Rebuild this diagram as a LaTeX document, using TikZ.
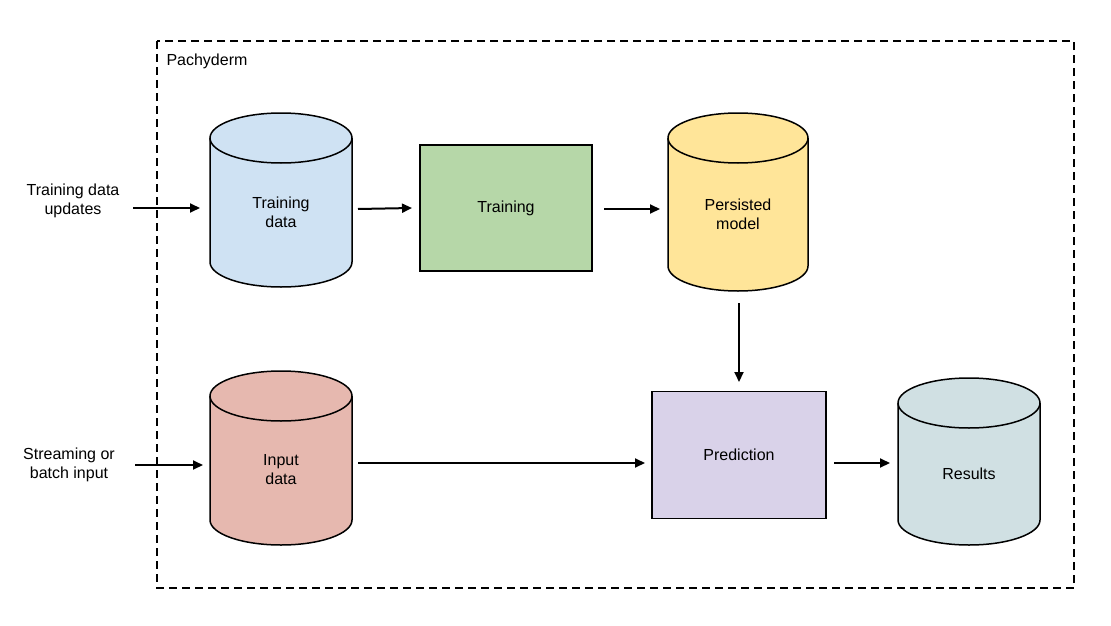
\documentclass[tikz,border=0pt]{standalone}
\usepackage{fontspec}
\setmainfont{Liberation Sans}
\usetikzlibrary{arrows.meta}
\definecolor{cblue}{HTML}{CFE2F3}
\definecolor{cgreen}{HTML}{B6D7A8}
\definecolor{cyellow}{HTML}{FFE599}
\definecolor{cpurple}{HTML}{D9D2E9}
\definecolor{cred}{HTML}{E6B8AF}
\definecolor{cteal}{HTML}{D0E0E3}
\tikzset{
  box/.style={draw=black, line width=1.5pt, align=center, inner sep=0pt, font=\fontsize{16}{19}\selectfont},
  lbl/.style={align=center, font=\fontsize{16}{19}\selectfont},
  arr/.style={-{Triangle[length=10pt,width=9pt]}, line width=2pt},
}
\newcommand{\mycyl}[7]{% name x1 x2 ytop ybot color text
  \pgfmathsetmacro{\rx}{(#3-#2)/2}
  \pgfmathsetmacro{\cx}{(#3+#2)/2}
  \fill[#6] (#2,#4+25) -- (#2,#5-25) arc[start angle=180,end angle=0,x radius=\rx,y radius=25] -- (#3,#4+25) arc[start angle=0,end angle=-180,x radius=\rx,y radius=25] -- cycle;
  \draw[line width=1.5pt] (#2,#4+25) -- (#2,#5-25) arc[start angle=180,end angle=0,x radius=\rx,y radius=25] -- (#3,#4+25);
  \draw[line width=1.5pt] (\cx,#4+25) ellipse[x radius=\rx,y radius=25];
  \node[lbl, minimum width=#3-#2, minimum height=#5-#4-50, inner sep=0pt] (#1) at (\cx,{(#4+#5)/2+12}) {#7};
}
\begin{document}
\begin{tikzpicture}[x=1pt,y=-1pt]
\useasboundingbox (0,0) rectangle (1111,626);
\draw[dashed, line width=2pt, dash pattern=on 8pt off 5pt] (157,41) rectangle (1074,588);
\node[lbl, anchor=west] (pach) at (163,61) {Pachyderm};
\mycyl{td}{210}{352}{113}{287}{cblue}{Training\\data}
\mycyl{pm}{668}{808}{113}{291}{cyellow}{Persisted\\model}
\mycyl{id}{210}{352}{371}{545}{cred}{Input\\data}
\mycyl{rs}{898}{1040}{378}{545}{cteal}{Results}
\node[box, fill=cgreen, minimum width=172pt, minimum height=126pt] (tr) at (506,208) {Training};
\node[box, fill=cpurple, minimum width=174pt, minimum height=127pt] (pr) at (739,455) {Prediction};
\node[lbl] (tdu) at (73,201) {Training data\\updates};
\node[lbl] (sbi) at (69,465) {Streaming or\\batch input};
\coordinate (a1) at (133,208);
\coordinate (a2) at (135,465);
\draw[arr] (a1) -- (200,208);
\draw[arr] (358,209) -- (tr.west -| 412,0);
\draw[arr] (604,209) -- (660,209);
\draw[arr] (739,303) -- (pr.north |- 0,382);
\draw[arr] (a2) -- (203,465);
\draw[arr] (358,463) -- (645,463);
\draw[arr] (834,463) -- (890,463);
\end{tikzpicture}
\end{document}
